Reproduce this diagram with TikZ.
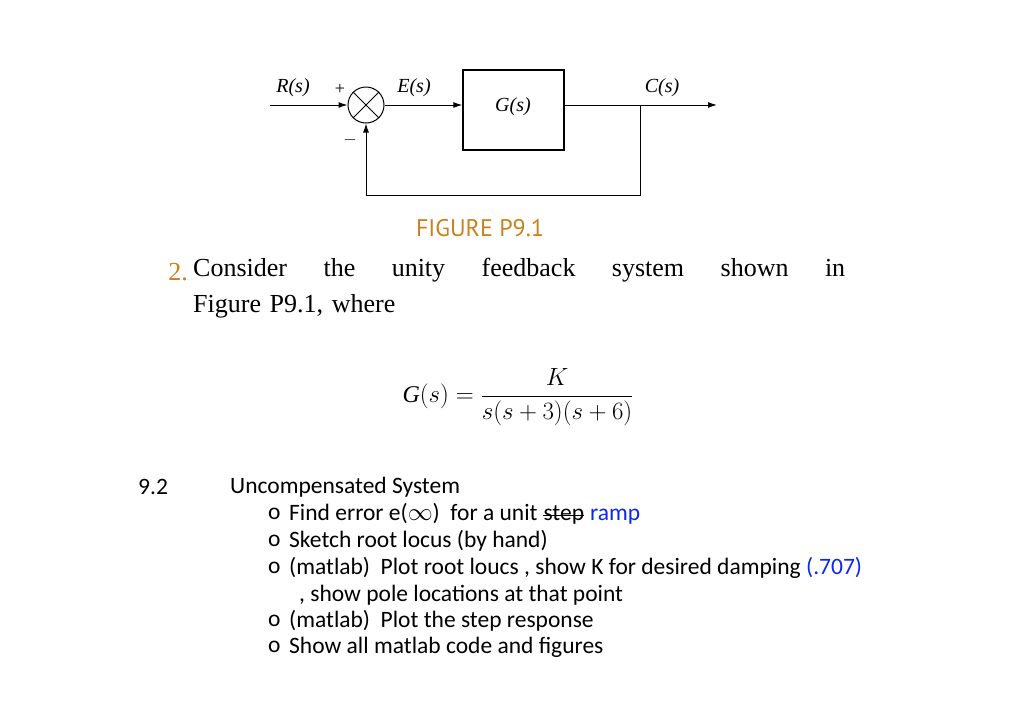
\documentclass[tikz,border=0pt]{standalone}
\usepackage{amsmath}
\usepackage{fontspec}
\setmainfont{Liberation Serif}
\newfontfamily\listfont{Carlito}
\newfontfamily\figfont{PT Sans}
\usetikzlibrary{arrows.meta}
\definecolor{figorange}{rgb}{0.80,0.50,0.10}
\definecolor{linkblue}{rgb}{0.05,0.15,0.95}
\newcommand{\struck}[1]{\tikz[baseline=(w.base)]{\node (w) [inner sep=0pt] {#1};\draw [line width=1pt] ([yshift=-0.5pt]w.west) -- ([yshift=-0.5pt]w.east);}}
\tikzset{
  sig/.style={-{Latex[length=9pt,width=6pt]}, line width=1pt},
  lbl/.style={inner sep=0pt, font=\fontsize{20}{20}\selectfont\itshape},
  item/.style={anchor=west, inner sep=0pt, font=\listfont\fontsize{23.5}{26}\selectfont},
}
\begin{document}
\begin{tikzpicture}[x=1pt,y=-1pt]
\useasboundingbox (0,0) rectangle (1024,726);

%Block diagram
\coordinate (in) at (270,105);
\node (sum) [circle, draw, line width=1pt, minimum size=36pt, inner sep=0pt] at (366,105) {};
\draw [line width=1pt] (sum.north west) -- (sum.south east) (sum.north east) -- (sum.south west);
\node (plant) [draw, line width=1.4pt, minimum width=101pt, minimum height=80pt, inner sep=0pt] at (513.5,110) {};
\node [lbl] at (513,107) {G(s)};
\coordinate (tap) at (640,105);
\coordinate (out) at (717,105);
\coordinate (fbr) at (640,195);
\coordinate (fbl) at (366,195);

\draw [sig] (in) -- (sum.west);
\draw [sig] (sum.east) -- (plant.west |- sum.east);
\draw [sig] (plant.east |- tap) -- (out);
\draw [sig] (tap) -- (fbr) -- (fbl) -- (sum.south);

% Text Node
\node [lbl] at (293,88) {R(s)};
\node [inner sep=0pt, font=\fontsize{18}{18}\selectfont] at (340,89) {+};
\node [lbl] at (414,88) {E(s)};
\node [inner sep=0pt, font=\fontsize{18}{18}\selectfont] at (350,140) {$-$};
\node [lbl] at (662,88) {C(s)};

\node (fig) [inner sep=0pt, text=figorange, font=\figfont\fontsize{24}{24}\selectfont] at (480,228) {FIGURE P9.1};

%Problem text
\node (num) [anchor=east, inner sep=0pt, text=figorange, font=\fontsize{26}{26}\selectfont] at (188,272) {2.};
\node (par) [anchor=north west, inner sep=0pt, text width=652pt, align=left, font=\fontsize{26}{36}\selectfont] at (193,258)
  {Consider\hfill the\hfill unity\hfill feedback\hfill system\hfill shown\hfill in\\Figure P9.1, where};
\node (eq) [inner sep=0pt, font=\fontsize{24}{24}\selectfont] at (518,397)
  {$\mathit{G}(s) = \dfrac{K}{s(s+3)(s+6)}$};

%Task list
\node (sec) [item] at (138,487) {9.2};
\node (head) [item] at (230,487) {Uncompensated System};
\foreach \yy/\txt in {514/{Find error e($\infty$)\ \ for a unit \struck{step} \textcolor{linkblue}{ramp}},
  541/{Sketch root locus (by hand)},
  568/{(matlab)\ \ Plot root loucs , show K for desired damping \textcolor{linkblue}{(.707)}},
  621/{(matlab)\ \ Plot the step response},
  647/{Show all matlab code and figures}}{
  \node [item] at (268,\yy) {o};
  \node [item] at (289,\yy) {\txt};
}
\node (cont) [item] at (299,595) {, show pole locations at that point};
\end{tikzpicture}
\end{document}
